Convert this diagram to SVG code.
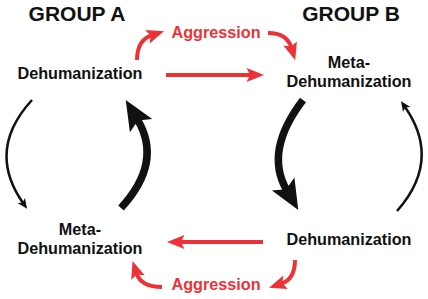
<svg xmlns="http://www.w3.org/2000/svg" width="428" height="299" viewBox="0 0 428 299">
<style>
.t{font-family:"Liberation Sans",Arial,sans-serif;font-weight:bold;text-anchor:middle;fill:#111}
.g{font-size:21px}
.n{font-size:16.2px}
.r{fill:#ed3237}
.red{fill:none;stroke:#ed3237;stroke-width:4}
.thin{fill:none;stroke:#111;stroke-width:2.5}
.thick{fill:none;stroke:#111;stroke-width:7.5}
</style>
<defs>
<marker id="mr" markerUnits="userSpaceOnUse" orient="auto" markerWidth="24" markerHeight="20" refX="4" refY="0" viewBox="-2 -8 22 16" overflow="visible">
<path d="M0,-6.5 L16,0 L0,6.5 L3,0 Z" fill="#ed3237"/>
</marker>
<marker id="mt" markerUnits="userSpaceOnUse" orient="auto" markerWidth="14" markerHeight="12" refX="2" refY="0" viewBox="-2 -6 12 12" overflow="visible">
<path d="M-1,-4.5 L9,0 L-1,4.5 L1.5,0 Z" fill="#111"/>
</marker>
<marker id="mk" markerUnits="userSpaceOnUse" orient="auto" markerWidth="34" markerHeight="30" refX="5" refY="0" viewBox="-3 -15 33 30" overflow="visible">
<path d="M-2,-13 L28,0 L-2,13 L4,0 Z" fill="#111"/>
</marker>
</defs>
<g id="titles">
<text class="t g" x="77" y="21">GROUP A</text>
<text class="t g" x="351" y="21">GROUP B</text>
</g>
<g id="a-dehum">
<text class="t n" x="80" y="79">Dehumanization</text>
</g>
<g id="b-meta">
<text class="t n" x="349" y="68">Meta-</text>
<text class="t n" x="349" y="87">Dehumanization</text>
</g>
<g id="a-meta">
<text class="t n" x="80" y="235">Meta-</text>
<text class="t n" x="80" y="254">Dehumanization</text>
</g>
<g id="b-dehum">
<text class="t n" x="349" y="245">Dehumanization</text>
</g>
<g id="aggr-top">
<text class="t n r" x="216" y="37.5">Aggression</text>
</g>
<g id="aggr-bottom">
<text class="t n r" x="216" y="290">Aggression</text>
</g>
<g id="connectors">
<path class="red" d="M166,75 L251,75" marker-end="url(#mr)"/>
<path class="red" d="M263,242 L180,242" marker-end="url(#mr)"/>
<path class="red" d="M137,60 Q137,40 151.6,35.3" marker-end="url(#mr)"/>
<path class="red" d="M268,33 Q287,33 291.4,47.6" marker-end="url(#mr)"/>
<path class="red" d="M295,260 Q295,279 281.4,283.6" marker-end="url(#mr)"/>
<path class="red" d="M162,287 Q141,287 136.6,273.4" marker-end="url(#mr)"/>
<path class="thin" d="M32,100 Q-14,150 23,203" marker-end="url(#mt)"/>
<path class="thin" d="M397,211 Q442,160 405,107" marker-end="url(#mt)"/>
<path class="thick" d="M121,208 Q163,162.5 137.5,119.7" marker-end="url(#mk)"/>
<path class="thick" d="M303,100 Q264,151 286.7,190.1" marker-end="url(#mk)"/>
</g>
</svg>
